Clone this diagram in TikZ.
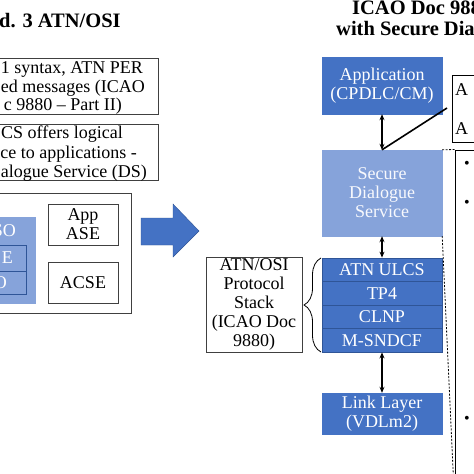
\documentclass[tikz,border=0pt]{standalone}
\usepackage{fontspec}
\setmainfont{Liberation Serif}
\usetikzlibrary{arrows.meta,decorations.pathreplacing}
\definecolor{blueA}{HTML}{4472C4}
\definecolor{blueL}{HTML}{86A3DA}
\definecolor{blueD}{HTML}{2F5597}
\definecolor{edge}{HTML}{404040}
\begin{document}
\begin{tikzpicture}[x=1pt,y=-1pt,
  txt/.style={font=\fontsize{18}{19}\selectfont, inner sep=0pt, align=center},
  ttl/.style={font=\fontsize{20.5}{22}\selectfont\bfseries, inner sep=0pt},
  wbox/.style={draw=edge, line width=0.9pt, fill=white, inner sep=0pt},
  kbox/.style={draw=black, line width=1pt, fill=white, inner sep=0pt},
  dbox/.style={fill=blueA, draw=blueA, text=white, inner sep=0pt, minimum width=120pt, align=center, font=\fontsize{18}{19}\selectfont},
  sbox/.style={fill=blueA, draw=blueD, line width=0.8pt, text=white, inner sep=0pt, minimum width=120pt, minimum height=23.5pt, font=\fontsize{18}{19}\selectfont},
  lbox/.style={fill=blueL, draw=blueL, text=white!94!blueL, inner sep=0pt, align=center, font=\fontsize{18}{19}\selectfont},
  subbox/.style={fill=blueL, draw=blueD, line width=0.8pt, inner sep=0pt},
  darr/.style={{Stealth[length=6pt,width=5pt]}-{Stealth[length=6pt,width=5pt]}, line width=1.6pt, black},
  bul/.style={font=\fontsize{16}{16}\selectfont, inner sep=0pt},
  zoomln/.style={dash pattern=on 2pt off 1.5pt, line width=0.8pt, black},
]
\useasboundingbox (0,0) rectangle (474,474);
\fill[white] (0,0) rectangle (474,474);
% titles
\node[ttl, anchor=base west] (tl) at (-1,27.5) {d. 3 ATN/OSI};
\node[ttl, anchor=base west] (tr1) at (352,14.5) {ICAO Doc 988};
\node[ttl, anchor=base west] (tr2) at (336,35) {with Secure Dial};
% left column boxes
\node[wbox, minimum width=168pt, minimum height=56pt] (b1) at (74,86) {};
\node[txt, anchor=base east] (b1a) at (143,73) {1 syntax, ATN PER};
\node[txt, anchor=base east] (b1b) at (145,92) {ed messages (ICAO};
\node[txt, anchor=base east] (b1c) at (122,110.5) {c 9880 – Part II)};
\node[wbox, minimum width=168pt, minimum height=56pt] (b2) at (74,152) {};
\node[txt, anchor=base east] (b2a) at (123,138) {CS offers logical};
\node[txt, anchor=base east] (b2b) at (137,158) {ace to applications -};
\node[txt, anchor=base east] (b2c) at (147,177) {alogue Service (DS)};
\node[wbox, minimum width=146pt, minimum height=120pt] (b3) at (58,253) {};
\node[lbox, minimum width=50pt, minimum height=86pt] (aso) at (10,260) {};
\node[txt, text=white, anchor=east] (asot) at (16,231) {SO};
\node[subbox, minimum width=41pt, minimum height=26pt] (se) at (5.5,258) {};
\node[txt, text=white, anchor=east] (set) at (13,258) {E};
\node[subbox, minimum width=41pt, minimum height=23pt] (so) at (5.5,282.5) {};
\node[txt, text=white, anchor=east] (sot) at (7,282.5) {O};
\node[wbox, txt, minimum width=70pt, minimum height=41pt] (ase) at (83,224.5) {App\\ASE};
\node[wbox, txt, minimum width=70pt, minimum height=41pt] (acse) at (83,282.5) {ACSE};
% block arrow
\fill[blueA, draw=blueD, line width=0.4pt] (141,218) -- (173,218) -- (173,204) -- (199,231) -- (173,257) -- (173,245) -- (141,245) -- cycle;
% right stack
\node[dbox, minimum height=57pt] (app) at (382,85.5) {Application\\(CPDLC/CM)};
\node[lbox, minimum width=120pt, minimum height=86pt] (sds) at (382,193) {Secure\\Dialogue\\Service};
\node[sbox] (ulcs) at (382,269.75) {ATN ULCS};
\node[sbox] (tp4) at (382,293.25) {TP4};
\node[sbox] (clnp) at (382,316.75) {CLNP};
\node[sbox] (msn) at (382,340.25) {M-SNDCF};
\node[dbox, minimum height=41pt] (link) at (382,413.5) {Link Layer\\(VDLm2)};
\node[wbox, txt, minimum width=96pt, minimum height=95pt] (osi) at (254,304.5) {ATN/OSI\\Protocol\\Stack\\(ICAO Doc\\9880)};
% right boxes
\node[kbox, minimum width=40pt, minimum height=67pt] (abox) at (472,108.5) {};
\node[txt, anchor=west] (a1) at (455,90) {A};
\node[txt, anchor=west] (a2) at (455,129) {A};
\node[kbox, minimum width=40pt, minimum height=340pt] (big) at (475,320) {};
\node[bul] (d1) at (467,165) {•};
\node[bul] (d2) at (467,204) {•};
\node[bul] (d3) at (467,420) {•};
% connectors
\coordinate (aend) at (447,108);
\coordinate (dz) at (454,490);
\draw[darr] (app.south) -- (sds.north);
\draw[line width=1.6pt, black] (aend) -- (sds.north);
\draw[darr] (sds.south) -- (ulcs.north);
\draw[darr] (msn.south) -- (link.north);
\draw[zoomln] (sds.north east) -- (big.north west);
\draw[zoomln] (sds.south east) -- (dz);
\draw[line width=0.8pt, black, decorate, decoration={brace, amplitude=17pt}] (321,352) -- (321,258);
\end{tikzpicture}
\end{document}
